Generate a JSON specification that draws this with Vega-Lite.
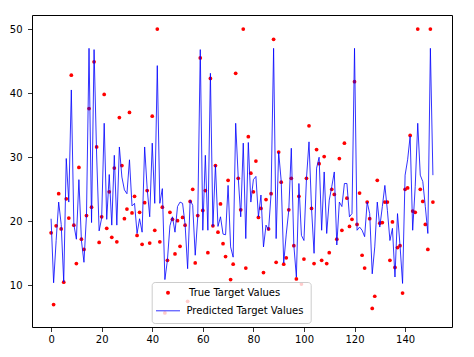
{
  "$schema": "https://vega.github.io/schema/vega-lite/v6.json",
  "width": 420,
  "height": 312,
  "autosize": {"type": "none"},
  "padding": {"left": 32, "top": 15, "right": 22, "bottom": 30},
  "config": {
    "view": {"stroke": "#000000", "strokeWidth": 1},
    "font": "DejaVu Sans",
    "axis": {"domain": false, "grid": false, "tickColor": "#000000", "tickSize": 4.5, "tickWidth": 0.8, "labelFontSize": 10, "labelColor": "#000000", "labelFont": "DejaVu Sans", "labelPadding": 3, "title": null}
  },
  "resolve": {"scale": {"color": "independent"}, "legend": {"color": "independent"}},
  "data": {"values": [
    {"i":0,"actual":18.2,"predicted":20.4},{"i":1,"actual":7.0,"predicted":10.4},{"i":2,"actual":19.3,"predicted":17.0},{"i":3,"actual":24.3,"predicted":23.0},{"i":4,"actual":18.8,"predicted":19.5},{"i":5,"actual":10.5,"predicted":10.5},{"i":6,"actual":23.5,"predicted":29.8},{"i":7,"actual":20.5,"predicted":23.0},{"i":8,"actual":42.8,"predicted":40.5},{"i":9,"actual":19.4,"predicted":19.5},
    {"i":10,"actual":13.4,"predicted":17.2},{"i":11,"actual":28.4,"predicted":26.5},{"i":12,"actual":17.2,"predicted":17.0},{"i":13,"actual":15.6,"predicted":13.6},{"i":14,"actual":20.9,"predicted":21.0},{"i":15,"actual":37.6,"predicted":47.0},{"i":16,"actual":22.2,"predicted":19.8},{"i":17,"actual":44.9,"predicted":46.8},{"i":18,"actual":31.6,"predicted":30.5},{"i":19,"actual":16.7,"predicted":18.5},
    {"i":20,"actual":20.7,"predicted":20.5},{"i":21,"actual":39.8,"predicted":35.3},{"i":22,"actual":18.9,"predicted":20.3},{"i":23,"actual":24.6,"predicted":27.3},{"i":24,"actual":17.5,"predicted":19.4},{"i":25,"actual":28.3,"predicted":30.3},{"i":26,"actual":16.8,"predicted":19.4},{"i":27,"actual":36.2,"predicted":31.6},{"i":28,"actual":28.7,"predicted":26.9},{"i":29,"actual":20.4,"predicted":24.9},
    {"i":30,"actual":21.9,"predicted":24.3},{"i":31,"actual":37.0,"predicted":29.6},{"i":32,"actual":21.3,"predicted":22.4},{"i":33,"actual":23.9,"predicted":22.8},{"i":34,"actual":17.8,"predicted":18.1},{"i":35,"actual":21.4,"predicted":20.4},{"i":36,"actual":16.4,"predicted":18.3},{"i":37,"actual":22.9,"predicted":31.6},{"i":38,"actual":24.8,"predicted":25.1},{"i":39,"actual":16.6,"predicted":20.7},
    {"i":40,"actual":36.4,"predicted":32.2},{"i":41,"actual":18.6,"predicted":22.8},{"i":42,"actual":50.0,"predicted":44.3},{"i":43,"actual":16.8,"predicted":22.8},{"i":44,"actual":22.2,"predicted":25.1},{"i":45,"actual":5.7,"predicted":10.9},{"i":46,"actual":13.9,"predicted":13.9},{"i":47,"actual":21.4,"predicted":19.3},{"i":48,"actual":20.3,"predicted":20.7},{"i":49,"actual":14.9,"predicted":18.3},
    {"i":50,"actual":20.1,"predicted":22.3},{"i":51,"actual":16.1,"predicted":23.0},{"i":52,"actual":20.6,"predicted":22.8},{"i":53,"actual":19.4,"predicted":19.5},{"i":54,"actual":7.5,"predicted":12.6},{"i":55,"actual":23.1,"predicted":23.3},{"i":56,"actual":25.0,"predicted":22.5},{"i":57,"actual":13.5,"predicted":14.7},{"i":58,"actual":20.9,"predicted":20.7},{"i":59,"actual":45.5,"predicted":46.8},
    {"i":60,"actual":21.7,"predicted":18.6},{"i":61,"actual":24.8,"predicted":30.3},{"i":62,"actual":15.1,"predicted":18.6},{"i":63,"actual":42.3,"predicted":43.1},{"i":64,"actual":19.3,"predicted":19.2},{"i":65,"actual":28.7,"predicted":28.8},{"i":66,"actual":18.3,"predicted":19.2},{"i":67,"actual":22.7,"predicted":20.7},{"i":68,"actual":16.5,"predicted":18.0},{"i":69,"actual":14.5,"predicted":17.9},
    {"i":70,"actual":26.4,"predicted":25.6},{"i":71,"actual":10.9,"predicted":16.0},{"i":72,"actual":13.3,"predicted":14.4},{"i":73,"actual":43.1,"predicted":35.3},{"i":74,"actual":26.7,"predicted":26.9},{"i":75,"actual":21.8,"predicted":20.7},{"i":76,"actual":50.0,"predicted":32.2},{"i":77,"actual":12.7,"predicted":17.3},{"i":78,"actual":33.2,"predicted":32.3},{"i":79,"actual":27.5,"predicted":23.0},
    {"i":80,"actual":24.6,"predicted":26.5},{"i":81,"actual":29.4,"predicted":27.0},{"i":82,"actual":20.6,"predicted":20.7},{"i":83,"actual":22.0,"predicted":24.1},{"i":84,"actual":12.0,"predicted":16.0},{"i":85,"actual":23.4,"predicted":19.4},{"i":86,"actual":18.8,"predicted":18.6},{"i":87,"actual":24.3,"predicted":24.3},{"i":88,"actual":48.4,"predicted":47.0},{"i":89,"actual":13.6,"predicted":17.3},
    {"i":90,"actual":30.8,"predicted":30.8},{"i":91,"actual":26.1,"predicted":26.3},{"i":92,"actual":13.3,"predicted":13.5},{"i":93,"actual":14.3,"predicted":18.0},{"i":94,"actual":21.8,"predicted":21.7},{"i":95,"actual":26.7,"predicted":31.4},{"i":96,"actual":16.2,"predicted":16.3},{"i":97,"actual":11.0,"predicted":11.3},{"i":98,"actual":23.9,"predicted":25.9},{"i":99,"actual":10.2,"predicted":17.8},
    {"i":100,"actual":14.1,"predicted":17.0},{"i":101,"actual":26.7,"predicted":26.7},{"i":102,"actual":34.9,"predicted":32.4},{"i":103,"actual":22.0,"predicted":22.0},{"i":104,"actual":13.4,"predicted":15.0},{"i":105,"actual":31.2,"predicted":28.3},{"i":106,"actual":29.0,"predicted":30.0},{"i":107,"actual":13.9,"predicted":18.6},{"i":108,"actual":30.1,"predicted":27.7},{"i":109,"actual":13.4,"predicted":18.1},
    {"i":110,"actual":15.1,"predicted":23.3},{"i":111,"actual":25.0,"predicted":25.4},{"i":112,"actual":24.2,"predicted":27.7},{"i":113,"actual":17.2,"predicted":16.3},{"i":114,"actual":29.8,"predicted":23.0},{"i":115,"actual":18.6,"predicted":22.3},{"i":116,"actual":32.2,"predicted":25.9},{"i":117,"actual":23.6,"predicted":25.9},{"i":118,"actual":19.2,"predicted":20.7},{"i":119,"actual":20.3,"predicted":21.2},
    {"i":120,"actual":41.8,"predicted":47.0},{"i":121,"actual":19.5,"predicted":18.6},{"i":122,"actual":24.4,"predicted":19.1},{"i":123,"actual":14.7,"predicted":18.6},{"i":124,"actual":12.7,"predicted":17.6},{"i":125,"actual":23.0,"predicted":23.0},{"i":126,"actual":20.4,"predicted":21.2},{"i":127,"actual":6.4,"predicted":11.8},{"i":128,"actual":8.3,"predicted":16.0},{"i":129,"actual":26.4,"predicted":23.0},
    {"i":130,"actual":19.7,"predicted":19.1},{"i":131,"actual":19.8,"predicted":22.3},{"i":132,"actual":23.0,"predicted":25.6},{"i":133,"actual":23.0,"predicted":21.7},{"i":134,"actual":13.9,"predicted":17.0},{"i":135,"actual":19.9,"predicted":18.9},{"i":136,"actual":12.8,"predicted":11.3},{"i":137,"actual":15.9,"predicted":21.2},{"i":138,"actual":16.2,"predicted":16.2},{"i":139,"actual":8.8,"predicted":10.3},
    {"i":140,"actual":25.0,"predicted":27.2},{"i":141,"actual":25.2,"predicted":29.6},{"i":142,"actual":33.4,"predicted":33.3},{"i":143,"actual":21.6,"predicted":18.6},{"i":144,"actual":21.4,"predicted":25.4},{"i":145,"actual":50.0,"predicted":35.3},{"i":146,"actual":25.0,"predicted":27.2},{"i":147,"actual":23.1,"predicted":26.2},{"i":148,"actual":19.5,"predicted":22.3},{"i":149,"actual":15.6,"predicted":18.1},
    {"i":150,"actual":50.0,"predicted":47.0},{"i":151,"actual":23.0,"predicted":27.2}
  ]},
  "encoding": {
    "x": {"field": "i", "type": "quantitative", "scale": {"domain": [-7.55, 158.55], "nice": false, "zero": false}, "axis": {"values": [0, 20, 40, 60, 80, 100, 120, 140], "labelFlush": false, "labelPadding": 3}}
  },
  "layer": [
    {
      "mark": {"type": "point", "filled": true, "size": 14, "opacity": 1, "strokeWidth": 0},
      "encoding": {
        "y": {"field": "actual", "type": "quantitative", "scale": {"domain": [3.5, 52.2], "nice": false, "zero": false}, "axis": {"values": [10, 20, 30, 40, 50], "labelFlush": false, "labelPadding": 5.5}},
        "color": {"datum": "True Target Values", "type": "nominal",
          "scale": {"domain": ["True Target Values"], "range": ["#ff0000"]},
          "legend": {
            "orient": "none", "legendX": 131, "legendY": 272.7, "title": null, "zindex": 2,
            "labelFontSize": 10, "labelFont": "DejaVu Sans", "labelColor": "#000000",
            "symbolType": "circle", "symbolSize": 16, "symbolStrokeWidth": 0, "symbolOffset": 0,
            "labelOffset": 16, "padding": 0
          }
        }
      }
    },
    {
      "mark": {"type": "line", "strokeWidth": 1, "opacity": 0.8},
      "encoding": {
        "y": {"field": "predicted", "type": "quantitative"},
        "color": {"datum": "Predicted Target Values", "type": "nominal",
          "scale": {"domain": ["Predicted Target Values"], "range": ["#0000ff"]},
          "legend": {
            "orient": "none", "legendX": 119.7, "legendY": 267, "zindex": 1,
            "title": " ", "titleFontSize": 8, "titlePadding": 2,
            "labelFontSize": 10, "labelFont": "DejaVu Sans", "labelColor": "#000000",
            "symbolType": "stroke", "symbolSize": 576, "symbolStrokeWidth": 1, "symbolOffset": -2.5,
            "labelOffset": 6, "padding": 6.3,
            "strokeColor": "#cccccc", "fillColor": "rgba(255,255,255,0.8)", "cornerRadius": 3
          }
        }
      }
    }
  ]
}
